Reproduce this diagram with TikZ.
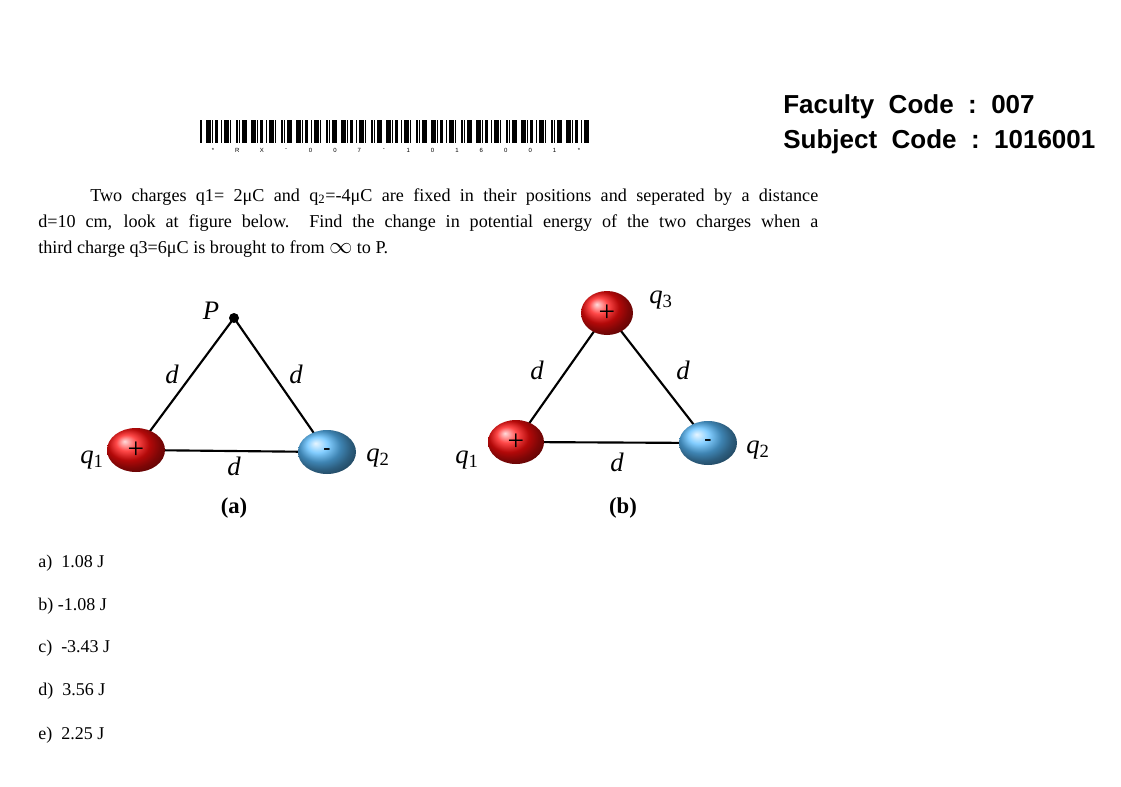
\documentclass[tikz,border=0pt]{standalone}
\usepackage{fontspec}
\setmainfont{Liberation Serif}
\newfontfamily\hsans{Liberation Sans}
\begin{document}
\begin{tikzpicture}[x=0.75pt,y=-0.75pt,
  lbl/.style={font=\itshape\fontsize{20}{20}\selectfont},
  rod/.style={line width=1.6pt},
  posball/.style={ball color=red!95!white},
  negball/.style={ball color=cyan!60!blue!65},
  txt/.style={anchor=west,inner sep=0,font=\fontsize{13.5}{16}\selectfont}]
\useasboundingbox[fill=white] (0,0) rectangle (1121,786);
% header
\node[anchor=west,inner sep=0,font=\hsans\bfseries\fontsize{19.5}{20}\selectfont] (fc) at (783,107) {Faculty\ \ Code\ \ :\ \ 007};
\node[anchor=west,inner sep=0,font=\hsans\bfseries\fontsize{19.5}{20}\selectfont] (sc) at (783,142) {Subject\ \ Code\ \ :\ \ 1016001};
% barcode
\foreach \i in {0,...,129}{
  \pgfmathtruncatemacro{\s}{mod(\i*7+3,5)}
  \pgfmathtruncatemacro{\w}{mod(\i*11+1,3)}
  \ifnum\s>0
    \fill[black] (200+3*\i,120) rectangle ++(1+0.8*\w,23);
  \fi
}
\foreach \c [count=\k from 0] in {*,R,X,-,0,0,7,-,1,0,1,6,0,0,1,*}
  \node[inner sep=0,font=\hsans\fontsize{4.5}{5}\selectfont] at (213+24.4*\k,150) {\c};
% paragraph
\node[anchor=north west,inner sep=0,text width=585pt,align=justify,font=\fontsize{13.6}{19.5}\selectfont] (para) at (38,188)
{\hspace*{39pt}Two charges q1= 2μC and q\textsubscript{2}=-4μC are fixed in their positions and seperated by a distance\linebreak d=10 cm, look at figure below.\ \ Find the change in potential energy of the two charges when a\linebreak third charge q3=6μC is brought to from {\fontsize{17}{17}\selectfont\bfseries$\infty$} to P.};
% figure (a)
\draw[rod] (136,450) -- (234,318) -- (327,452) -- (136,450);
\fill (234,318) circle (5);
\shade[posball] (136,450) ellipse (29 and 22);
\shade[negball] (327,452) ellipse (29 and 22);
\node[font=\fontsize{22}{22}\selectfont] (p1) at (136,450) {+};
\node[font=\bfseries\fontsize{16}{16}\selectfont] (m1) at (327,452) {-};
\node[lbl] (P) at (211,311) {P};
\node[lbl] (da1) at (172,374) {d};
\node[lbl] (da2) at (296,374) {d};
\node[lbl] (da3) at (234,466) {d};
\node[lbl] (qa1) at (92,460) {q\textsubscript{\upshape 1}};
\node[lbl] (qa2) at (378,458) {q\textsubscript{\upshape 2}};
\node[font=\bfseries\fontsize{17}{17}\selectfont] (la) at (234,508) {(a)};
% figure (b)
\draw[rod] (516,442) -- (607,313) -- (708,443) -- (516,442);
\shade[posball] (607,313) ellipse (26 and 22);
\shade[posball] (516,442) ellipse (28 and 22);
\shade[negball] (708,443) ellipse (29 and 22);
\node[font=\fontsize{22}{22}\selectfont] (p3) at (607,313) {+};
\node[font=\fontsize{22}{22}\selectfont] (p2) at (516,442) {+};
\node[font=\bfseries\fontsize{16}{16}\selectfont] (m2) at (708,443) {-};
\node[lbl] (qb3) at (661,300) {q\textsubscript{\upshape 3}};
\node[lbl] (db1) at (537,370) {d};
\node[lbl] (db2) at (683,370) {d};
\node[lbl] (db3) at (617,462) {d};
\node[lbl] (qb1) at (467,460) {q\textsubscript{\upshape 1}};
\node[lbl] (qb2) at (758,450) {q\textsubscript{\upshape 2}};
\node[font=\bfseries\fontsize{17}{17}\selectfont] (lb) at (623,508) {(b)};
% answers
\node[txt] (a) at (38,563) {a)\ \ 1.08 J};
\node[txt] (b) at (38,606) {b) -1.08 J};
\node[txt] (c) at (38,648) {c)\ \ -3.43 J};
\node[txt] (d) at (38,691) {d)\ \ 3.56 J};
\node[txt] (e) at (38,735) {e)\ \ 2.25 J};
\end{tikzpicture}
\end{document}
